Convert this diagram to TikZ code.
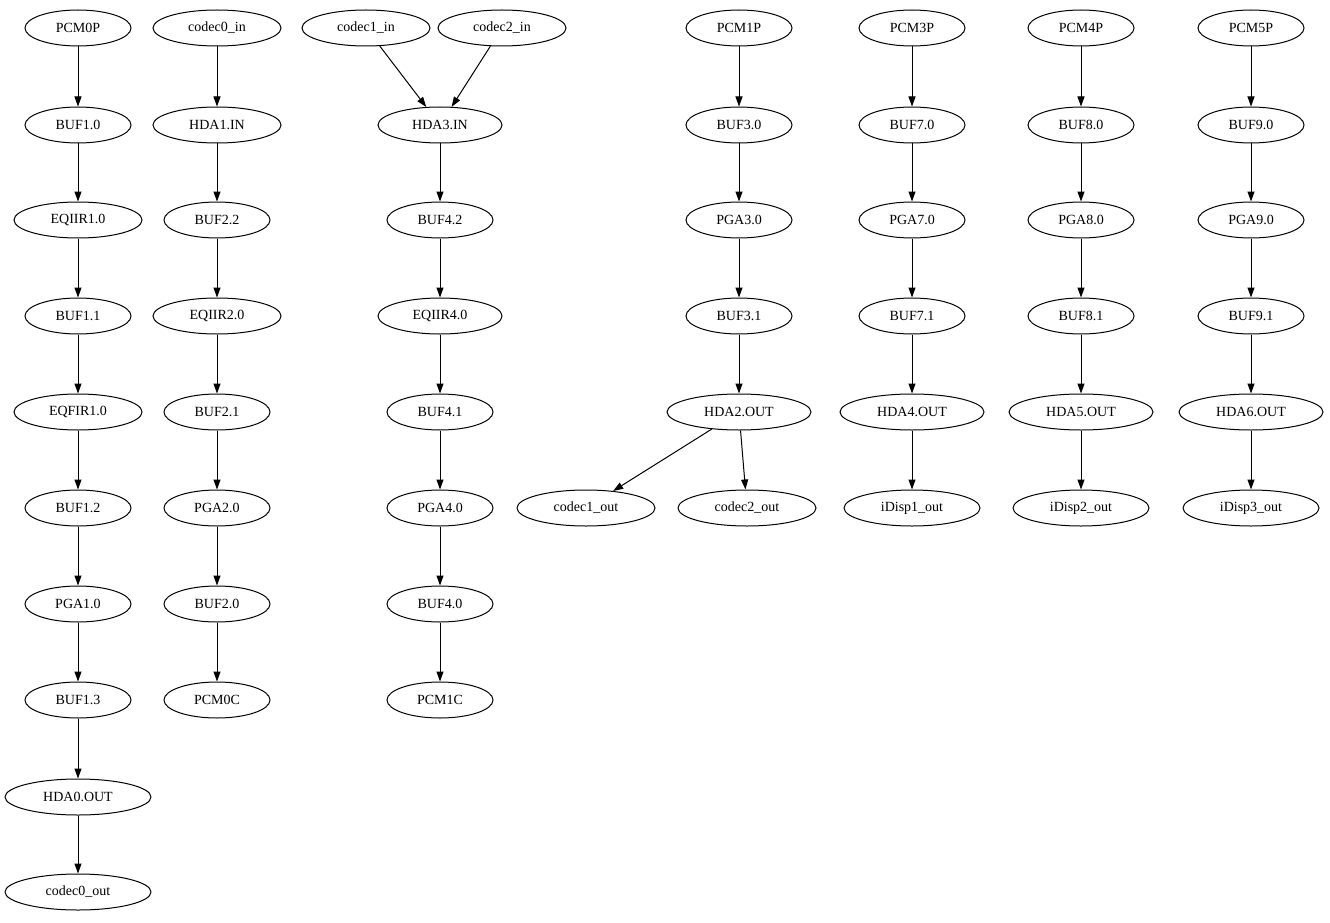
\documentclass[tikz,border=0pt]{standalone}
\usepackage{fontspec}
\setmainfont{Liberation Serif}
\usetikzlibrary{shapes.geometric,arrows.meta}
\begin{document}
\begin{tikzpicture}[x=1pt,y=-1pt,
  gv/.style={ellipse,draw,line width=1pt,minimum height=36pt,inner sep=0pt,minimum width=#1},
  gv/.default=106pt,
  ed/.style={-{Triangle[length=10pt,width=7pt]},line width=1pt}]
\useasboundingbox (0,0) rectangle (1330,923);
\newcommand\nd[5][106pt]{\node[gv=#1] (#2) at (#3,#4) {\makebox[0pt]{\fontsize{14}{16}\selectfont #5}};}
% column 1
\nd{a1}{78}{28}{PCM0P}
\nd{a2}{78}{125}{BUF1.0}
\nd[128pt]{a3}{78}{220}{EQIIR1.0}
\nd{a4}{78}{316}{BUF1.1}
\nd[128pt]{a5}{78}{412}{EQFIR1.0}
\nd{a6}{78}{508}{BUF1.2}
\nd{a7}{78}{604}{PGA1.0}
\nd{a8}{78}{700}{BUF1.3}
\nd[146pt]{a9}{78}{797}{HDA0.OUT}
\nd[146pt]{a10}{78}{892}{codec0\_out}
% column 2
\nd[128pt]{b1}{217}{28}{codec0\_in}
\nd[128pt]{b2}{217}{125}{HDA1.IN}
\nd{b3}{217}{220}{BUF2.2}
\nd[128pt]{b4}{217}{316}{EQIIR2.0}
\nd{b5}{217}{412}{BUF2.1}
\nd{b6}{217}{508}{PGA2.0}
\nd{b7}{217}{604}{BUF2.0}
\nd{b8}{217}{700}{PCM0C}
% column 3
\nd[128pt]{c0}{366}{28}{codec1\_in}
\nd[128pt]{c00}{502}{28}{codec2\_in}
\nd[124pt]{c2}{440}{125}{HDA3.IN}
\nd{c3}{440}{220}{BUF4.2}
\nd[124pt]{c4}{440}{316}{EQIIR4.0}
\nd{c5}{440}{412}{BUF4.1}
\nd{c6}{440}{508}{PGA4.0}
\nd{c7}{440}{604}{BUF4.0}
\nd{c8}{440}{700}{PCM1C}
% column 4
\nd{d1}{739}{28}{PCM1P}
\nd{d2}{739}{125}{BUF3.0}
\nd{d3}{739}{220}{PGA3.0}
\nd{d4}{739}{316}{BUF3.1}
\nd[144pt]{d5}{739}{412}{HDA2.OUT}
\nd[138pt]{d6}{586}{508}{codec1\_out}
\nd[138pt]{d7}{747}{508}{codec2\_out}
% columns 5-7
\nd{e1}{912}{28}{PCM3P}
\nd{e2}{912}{125}{BUF7.0}
\nd{e3}{912}{220}{PGA7.0}
\nd{e4}{912}{316}{BUF7.1}
\nd[144pt]{e5}{912}{412}{HDA4.OUT}
\nd[136pt]{e6}{912}{508}{iDisp1\_out}
\nd{f1}{1081}{28}{PCM4P}
\nd{f2}{1081}{125}{BUF8.0}
\nd{f3}{1081}{220}{PGA8.0}
\nd{f4}{1081}{316}{BUF8.1}
\nd[144pt]{f5}{1081}{412}{HDA5.OUT}
\nd[136pt]{f6}{1081}{508}{iDisp2\_out}
\nd{g1}{1251}{28}{PCM5P}
\nd{g2}{1251}{125}{BUF9.0}
\nd{g3}{1251}{220}{PGA9.0}
\nd{g4}{1251}{316}{BUF9.1}
\nd[144pt]{g5}{1251}{412}{HDA6.OUT}
\nd[136pt]{g6}{1251}{508}{iDisp3\_out}
\foreach \p/\q in {a1/a2,a2/a3,a3/a4,a4/a5,a5/a6,a6/a7,a7/a8,a8/a9,a9/a10,
  b1/b2,b2/b3,b3/b4,b4/b5,b5/b6,b6/b7,b7/b8,
  c0/c2,c00/c2,c2/c3,c3/c4,c4/c5,c5/c6,c6/c7,c7/c8,
  d1/d2,d2/d3,d3/d4,d4/d5,d5/d6,d5/d7,
  e1/e2,e2/e3,e3/e4,e4/e5,e5/e6,
  f1/f2,f2/f3,f3/f4,f4/f5,f5/f6,
  g1/g2,g2/g3,g3/g4,g4/g5,g5/g6}
  \draw[ed] (\p) -- (\q);
\end{tikzpicture}
\end{document}
